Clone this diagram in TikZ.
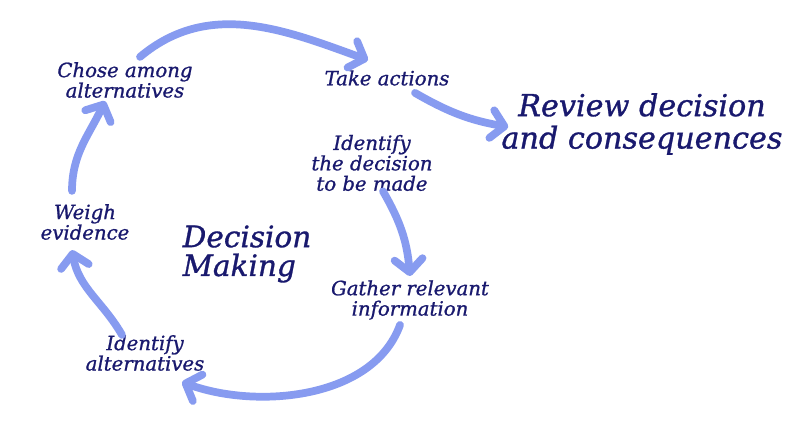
\documentclass[tikz,border=0pt]{standalone}
\usepackage{fontspec}
\setmainfont{DejaVu Serif}[ItalicFeatures={FakeBold=1}]
\usetikzlibrary{arrows.meta}
\definecolor{inkblue}{RGB}{25,25,110}
\definecolor{arrowblue}{RGB}{135,155,240}

\begin{document}
\begin{tikzpicture}[x=0.025cm,y=0.025cm,
      step label/.style={font=\fontsize{14}{14.5}\selectfont\itshape,text=inkblue,align=center,inner sep=0pt},
      big label/.style={font=\fontsize{21}{20.5}\selectfont\itshape,text=inkblue,align=center,inner sep=0pt},
      cycle arrow/.style={line width=5.5pt,draw=arrowblue,line cap=round,
        -{Straight Barb[round,length=3.2mm,width=7mm]}}]

      \useasboundingbox[fill=white] (0,0) rectangle (800,438);

      \node[step label] (chose)  at (125,358) {Chose among\\alternatives};
      \node[step label] (take)   at (387,360) {Take actions};
      \node[big label,font=\fontsize{21.5}{23}\selectfont\itshape] (review) at (642,314) {Review decision\\and consequences};
      \node[step label] (ident)  at (372,275) {Identify\\the decision\\to be made};
      \node[step label] (weigh)  at (85,216)  {Weigh\\evidence};
      \node[big label,align=left] (making) at (247,184) {Decision\\Making};
      \node[step label] (gather) at (410,138) {Gather relevant\\information};
      \node[step label] (alts)   at (145,85)  {Identify\\alternatives};

      \draw[cycle arrow] ([shift={(15,5)}]chose.north) to[out=40,in=160] ([shift={(-19,10)}]take.north);
      \draw[cycle arrow] ([shift={(28,-7)}]take.south) to[out=-30,in=170] ([shift={(7,-3)}]review.west);
      \draw[cycle arrow] ([shift={(11,0)}]ident.south) to[out=-60,in=95] ([shift={(0,4)}]gather.north);
      \draw[cycle arrow] ([shift={(-10,-5)}]gather.south) to[out=-110,in=-20,looseness=0.9] ([shift={(37,-11)}]alts.south);
      \draw[cycle arrow] ([shift={(-23,0)}]alts.north) to[out=120,in=-80] ([shift={(-13,-10)}]weigh.south);
      \draw[cycle arrow] ([shift={(-13,13)}]weigh.north) to[out=90,in=-115] ([shift={(-20,-3)}]chose.south);

\end{tikzpicture}
\end{document}
